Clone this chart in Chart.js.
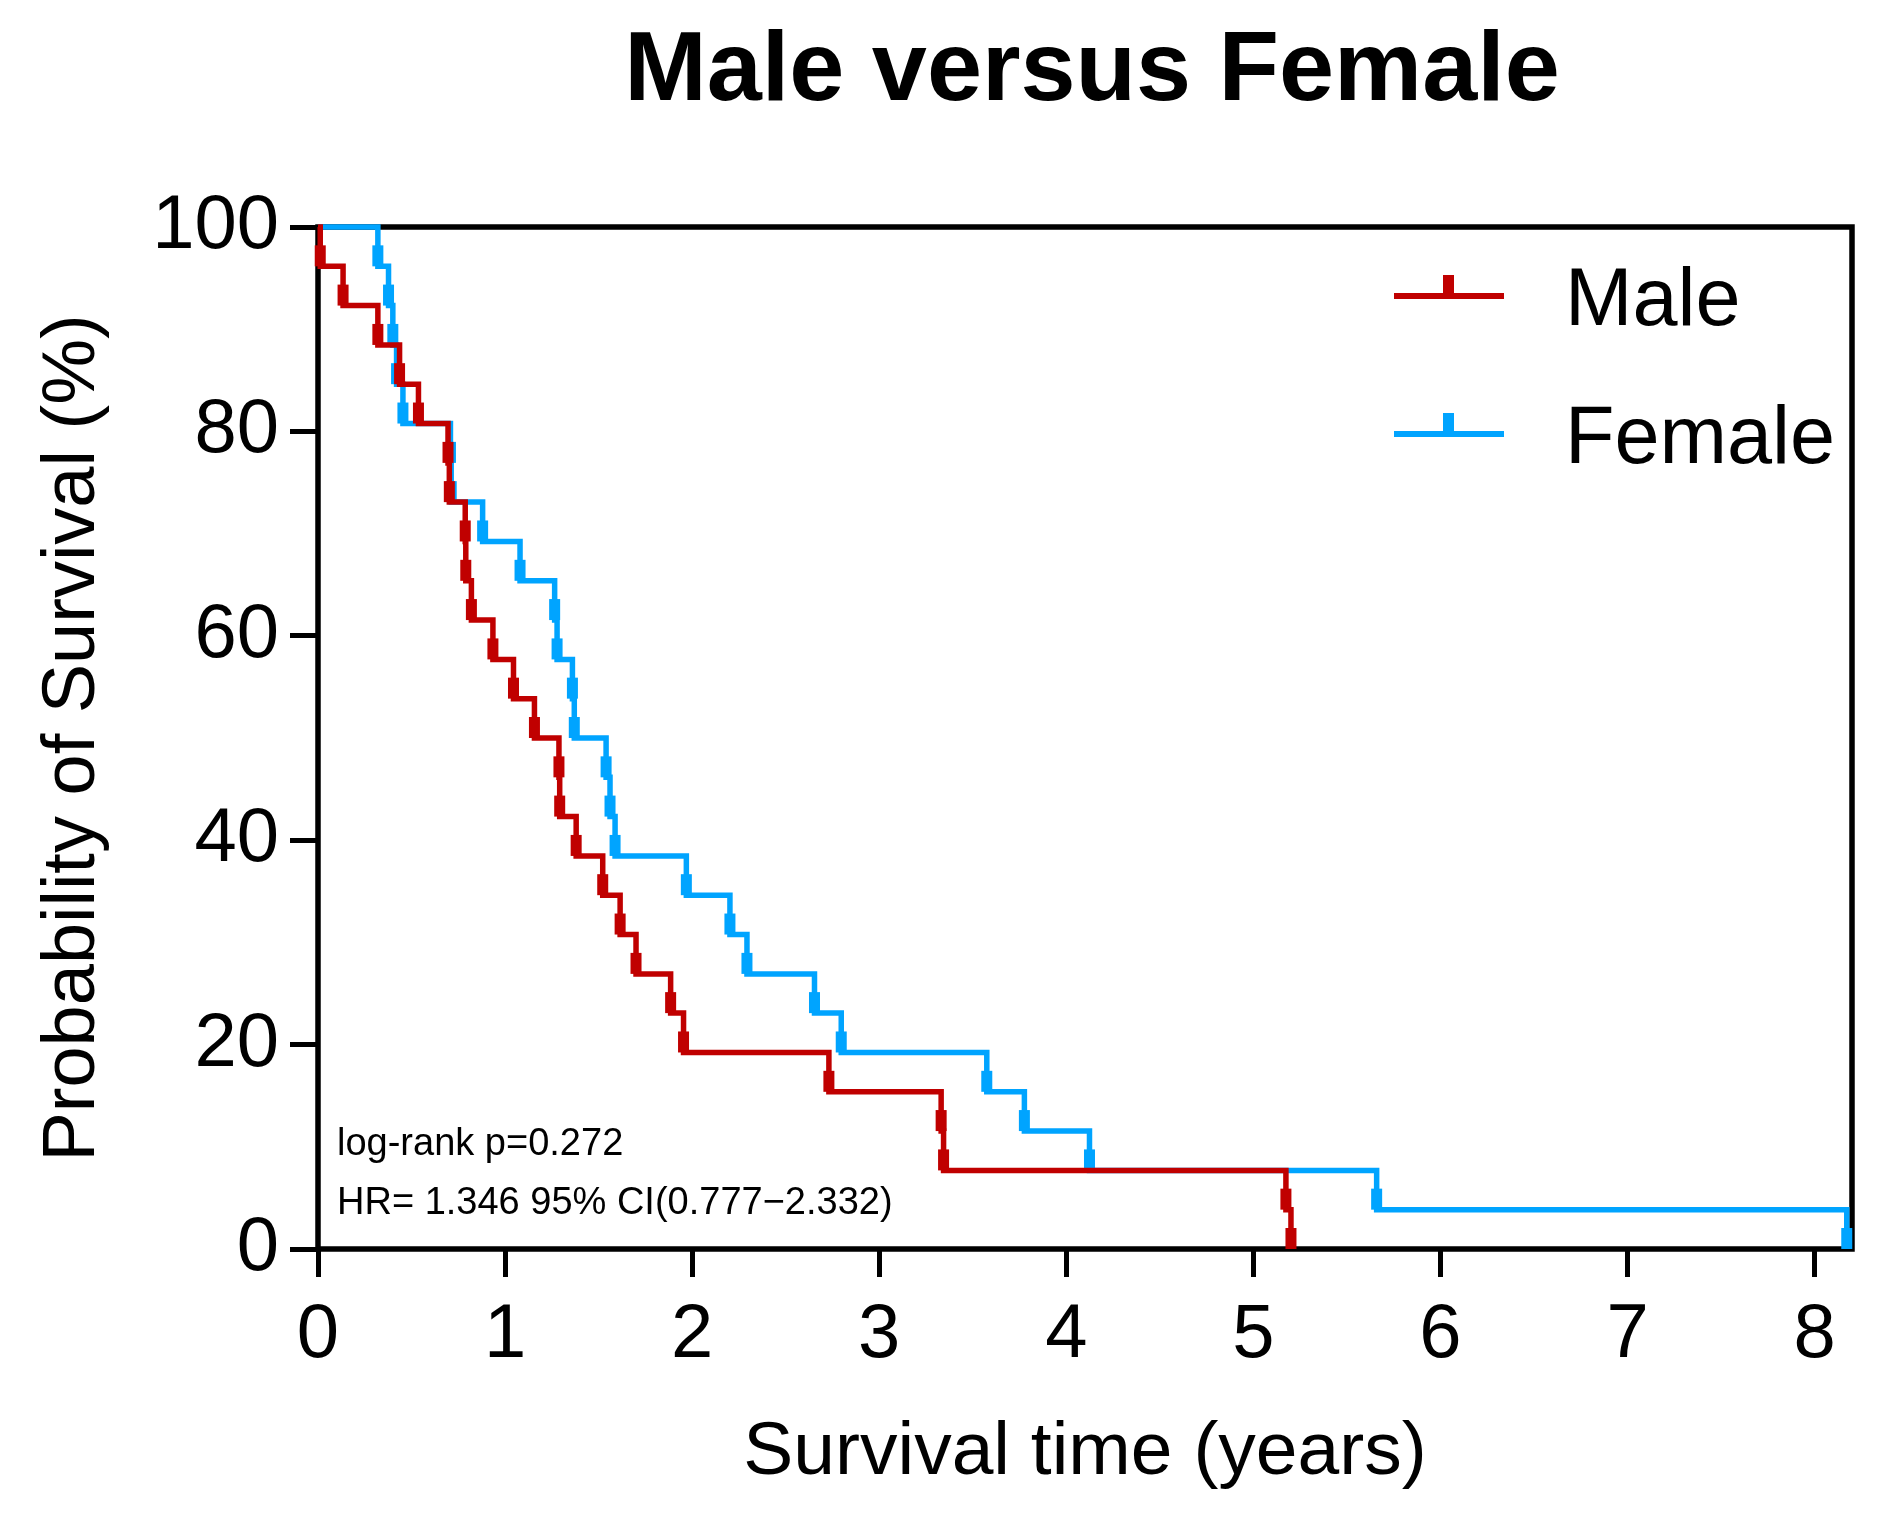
<!DOCTYPE html>
<html>
<head>
<meta charset="utf-8">
<title>Male versus Female</title>
<script src="https://cdn.jsdelivr.net/npm/chart.js@4.4.0/dist/chart.umd.min.js"></script>
<style>
  html, body { margin: 0; padding: 0; background: #fff; overflow: hidden; }
  canvas { display: block; }
</style>
</head>
<body>
<canvas id="kmChart" width="1888" height="1522"></canvas>
<script>
// Kaplan-Meier steps: time (years) and survival (%) after each event
const maleTimes = [0, 0.012, 0.134, 0.32, 0.436, 0.537, 0.695, 0.702, 0.787, 0.79, 0.82,
  0.935, 1.045, 1.157, 1.288, 1.292, 1.38, 1.522, 1.615, 1.70, 1.885, 1.954, 2.731,
  3.331, 3.344, 5.174, 5.201];
const maleSurvival = [100, 96.15, 92.31, 88.46, 84.62, 80.77, 76.92, 73.08, 69.23, 65.38, 61.54,
  57.69, 53.85, 50.0, 46.15, 42.31, 38.46, 34.62, 30.77, 26.92, 23.08, 19.23, 15.38,
  11.54, 7.69, 3.85, 0];

const femaleTimes = [0, 0.32, 0.377, 0.40, 0.42, 0.454, 0.708, 0.712, 0.88, 1.08, 1.265,
  1.278, 1.36, 1.37, 1.54, 1.561, 1.588, 1.969, 2.202, 2.293, 2.654, 2.797, 3.575,
  3.776, 4.124, 5.659, 8.172];
const femaleSurvival = [100, 96.15, 92.31, 88.46, 84.62, 80.77, 76.92, 73.08, 69.23, 65.38, 61.54,
  57.69, 53.85, 50.0, 46.15, 42.31, 38.46, 34.62, 30.77, 26.92, 23.08, 19.23, 15.38,
  11.54, 7.69, 3.85, 0];

const seriesNames = ["Male", "Female"];
const xTicks = [0, 1, 2, 3, 4, 5, 6, 7, 8];
const yTicks = [0, 20, 40, 60, 80, 100];
const chartTitle = "Male versus Female";
const statLines = ["log-rank p=0.272", "HR= 1.346 95% CI(0.777\u22122.332)"];

const colorMale = "#c00000",
  colorFemale = "#00a4ff",
  fontFamily = "'Liberation Sans', Arial, Helvetica, sans-serif";

const toPoints = (times, surv) => times.map((t, i) => ({ x: t, y: surv[i] }));

// censor-style tick drawn just above each step
const censorTicks = {
  id: "censorTicks",
  afterDatasetDraw(chart, args) {
    const { ctx, scales } = chart;
    const ds = chart.data.datasets[args.index];
    ctx.save();
    ctx.fillStyle = ds.borderColor;
    ds.data.forEach((p, i) => {
      if (i === 0) return;
      const x = scales.x.getPixelForValue(p.x);
      const y = scales.y.getPixelForValue(p.y);
      ctx.fillRect(x - 5.5, y - 21, 11, 21);
    });
    ctx.restore();
  },
};

const frameAndText = {
  id: "frameAndText",
  beforeDatasetsDraw(chart) {
    const { ctx, chartArea } = chart;
    ctx.save();
    ctx.strokeStyle = "#000";
    ctx.lineWidth = 5.5;
    ctx.strokeRect(chartArea.left, chartArea.top,
      chartArea.right - chartArea.left, chartArea.bottom - chartArea.top);
    ctx.restore();
  },
  afterDraw(chart) {
    const { ctx } = chart;
    ctx.save();
    ctx.fillStyle = "#000";
    ctx.textBaseline = "alphabetic";

    // title
    ctx.textAlign = "center";
    ctx.font = "bold 99px " + fontFamily;
    ctx.fillText(chartTitle, 1092, 100);

    // legend
    const rows = [296, 434];
    ctx.textAlign = "left";
    ctx.font = "81px " + fontFamily;
    chart.data.datasets.forEach((ds, i) => {
      const y = rows[i];
      ctx.fillStyle = ds.borderColor;
      ctx.fillRect(1394, y - 3, 110, 6);
      ctx.fillRect(1443, y - 21, 11, 21);
      ctx.fillStyle = "#000";
      ctx.fillText(ds.label, 1565, y + 29);
    });

    // statistics
    ctx.font = "38px " + fontFamily;
    ctx.fillText(statLines[0], 337, 1155);
    ctx.fillText(statLines[1], 337, 1214);
    ctx.restore();
  },
};

const kmChart = new Chart(document.getElementById("kmChart"), {
  type: "line",
  data: {
    datasets: [
      {
        label: seriesNames[0],
        data: toPoints(maleTimes, maleSurvival),
        borderColor: colorMale,
        backgroundColor: colorMale,
        borderWidth: 5.5,
        stepped: "before",
        pointRadius: 0,
        fill: false,
        clip: false,
      },
      {
        label: seriesNames[1],
        data: toPoints(femaleTimes, femaleSurvival),
        borderColor: colorFemale,
        backgroundColor: colorFemale,
        borderWidth: 5.5,
        stepped: "before",
        pointRadius: 0,
        fill: false,
        clip: false,
      },
    ],
  },
  options: {
    responsive: false,
    animation: false,
    devicePixelRatio: 1,
    layout: { padding: { left: 0, top: 227, right: 36, bottom: 0 } },
    plugins: {
      legend: { display: false },
      title: { display: false },
      tooltip: { enabled: false },
    },
    scales: {
      x: {
        type: "linear",
        min: 0,
        max: 8.2,
        afterBuildTicks: (scale) => { scale.ticks = xTicks.map((v) => ({ value: v })); },
        afterFit: (scale) => { scale.height = 273; },
        border: { display: false },
        grid: {
          display: true,
          drawOnChartArea: false,
          drawTicks: true,
          tickLength: 28,
          tickWidth: 5,
          tickColor: "#000",
        },
        ticks: {
          color: "#000",
          padding: 13,
          maxRotation: 0,
          font: { family: fontFamily, size: 76, lineHeight: 1.2 },
        },
        title: {
          display: true,
          text: "Survival time (years)",
          color: "#000",
          padding: { top: 0, bottom: 31 },
          font: { family: fontFamily, size: 75, lineHeight: 1 },
        },
      },
      y: {
        type: "linear",
        min: 0,
        max: 100,
        afterBuildTicks: (scale) => { scale.ticks = yTicks.map((v) => ({ value: v })); },
        afterFit: (scale) => { scale.width = 318; },
        border: { display: false },
        grid: {
          display: true,
          drawOnChartArea: false,
          drawTicks: true,
          tickLength: 28,
          tickWidth: 5,
          tickColor: "#000",
        },
        ticks: {
          color: "#000",
          padding: 11,
          font: { family: fontFamily, size: 76, lineHeight: 1.2 },
        },
        title: {
          display: true,
          text: "Probability of Survival (%)",
          color: "#000",
          padding: { top: 37, bottom: 0 },
          font: { family: fontFamily, size: 74, lineHeight: 1 },
        },
      },
    },
  },
  plugins: [censorTicks, frameAndText],
});
</script>
</body>
</html>
